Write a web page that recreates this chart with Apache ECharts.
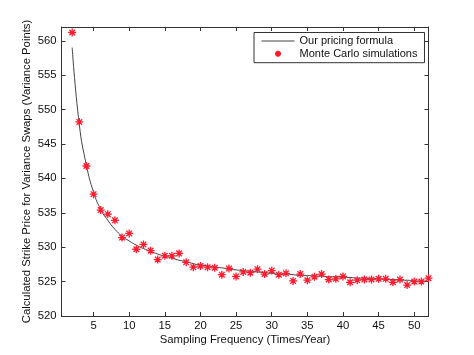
<!DOCTYPE html>
<html>
<head>
<meta charset="utf-8">
<script src="https://cdn.jsdelivr.net/npm/echarts@6/dist/echarts.min.js"></script>
<style>html,body{margin:0;padding:0;background:#fff;}#c{width:474px;height:355px;}</style>
</head>
<body>
<div id="c"></div>
<script>
var frequencies = [2,3,4,5,6,7,8,9,10,11,12,13,14,15,16,17,18,19,20,21,22,23,24,25,26,27,28,29,30,31,32,33,34,35,36,37,38,39,40,41,42,43,44,45,46,47,48,49,50,51,52];
var formulaValues = [559.0,547.8,541.9,538.0,535.5,533.9,532.6,531.6,530.9,530.3,529.8,529.4,529.0,528.7,528.4,528.1,527.9,527.6,527.4,527.3,527.1,527.0,526.8,526.7,526.6,526.5,526.4,526.3,526.2,526.1,526.1,526.0,525.9,525.9,525.8,525.8,525.7,525.7,525.6,525.6,525.5,525.5,525.4,525.4,525.3,525.3,525.2,525.2,525.1,525.1,525.0];
var monteCarloValues = [561.2,548.2,541.8,537.7,535.4,534.8,533.9,531.4,532.0,529.7,530.4,529.5,528.2,528.75,528.75,529.1,527.8,527.1,527.25,527.1,527.0,526.0,526.9,525.75,526.4,526.3,526.8,526.1,526.6,526.0,526.2,525.1,526.1,525.2,525.7,526.1,525.3,525.4,525.75,524.9,525.2,525.3,525.3,525.4,525.4,524.9,525.3,524.5,525.0,525.0,525.5];
var xTicks = [5,10,15,20,25,30,35,40,45,50];
var yTicks = [520,525,530,535,540,545,550,555,560];

function pairs(xs, ys){ return xs.map(function(x,i){ return [x, ys[i]]; }); }

var FONT = 'Liberation Sans';
var FS = 11.3;
var AX = '#333';
var star = 'path://M10 0 L10 20 M0 10 L20 10 M3 3 L17 17 M17 3 L3 17';
var starSmall = 'path://M-5 -5 M25 25 M10 0 L10 20 M0 10 L20 10 M3 3 L17 17 M17 3 L3 17';
var lineIcon = 'path://M0 0 H66 V2 H0 Z';

function axisBase(extra){
  var o = {
    axisLine: {show: true, onZero: false, lineStyle: {color: AX, width: 1}},
    splitLine: {show: false},
    nameMoveOverlap: false
  };
  for (var k in extra) o[k] = extra[k];
  return o;
}

var chart = echarts.init(document.getElementById('c'), null, {renderer: 'canvas'});
chart.setOption({
  animation: false,
  backgroundColor: '#fff',
  grid: {left: 61.5, right: 45.5, top: 27, bottom: 39, containLabel: false},
  legend: {
    show: true,
    orient: 'vertical', left: 254, top: 32.5,
    backgroundColor: '#fff',
    borderColor: AX, borderWidth: 1, borderRadius: 0,
    padding: [3, 7, 3.5, 7.5],
    itemWidth: 33, itemHeight: 9, itemGap: 1.7,
    textStyle: {fontFamily: FONT, fontSize: 11, color: '#111'},
    data: [
      {name: 'Our pricing formula', icon: lineIcon, itemStyle: {color: '#444'}},
      {name: 'Monte Carlo simulations', icon: starSmall}
    ]
  },
  xAxis: [
    axisBase({
      type: 'value', min: 0.5, max: 52, position: 'bottom',
      axisTick: {show: true, inside: true, length: 4, lineStyle: {color: AX}, customValues: xTicks},
      axisLabel: {customValues: xTicks, fontFamily: FONT, fontSize: FS, color: '#111', margin: 4.5},
      name: 'Sampling Frequency (Times/Year)', nameLocation: 'middle', nameGap: 18,
      nameTextStyle: {fontFamily: FONT, fontSize: FS, color: '#111'}
    }),
    axisBase({
      type: 'value', min: 0.5, max: 52, position: 'top',
      axisTick: {show: true, inside: true, length: 4, lineStyle: {color: AX}, customValues: xTicks},
      axisLabel: {show: false}
    })
  ],
  yAxis: [
    axisBase({
      type: 'value', min: 520, max: 562, position: 'left',
      axisTick: {show: true, inside: true, length: 4, lineStyle: {color: AX}, customValues: yTicks},
      axisLabel: {customValues: yTicks, fontFamily: FONT, fontSize: FS, color: '#111', margin: 5},
      name: 'Calculated Strike Price for Variance Swaps (Variance Points)', nameLocation: 'middle', nameGap: 29,
      nameTextStyle: {fontFamily: FONT, fontSize: FS, color: '#111'}
    }),
    axisBase({
      type: 'value', min: 520, max: 562, position: 'right',
      axisTick: {show: true, inside: true, length: 4, lineStyle: {color: AX}, customValues: yTicks},
      axisLabel: {show: false}
    })
  ],
  series: [
    {
      name: 'Our pricing formula', type: 'line', xAxisIndex: 0, yAxisIndex: 0,
      data: pairs(frequencies, formulaValues), smooth: true, showSymbol: false, symbol: 'none',
      lineStyle: {color: '#444', width: 1}, itemStyle: {color: '#444'}, z: 2
    },
    {
      name: 'Monte Carlo simulations', type: 'scatter', xAxisIndex: 0, yAxisIndex: 0,
      data: pairs(frequencies, monteCarloValues), symbol: star, symbolSize: 8,
      itemStyle: {color: 'transparent', borderColor: '#ff1a2e', borderWidth: 1.3, opacity: 1}, z: 3
    }
  ]
});
</script>
</body>
</html>
